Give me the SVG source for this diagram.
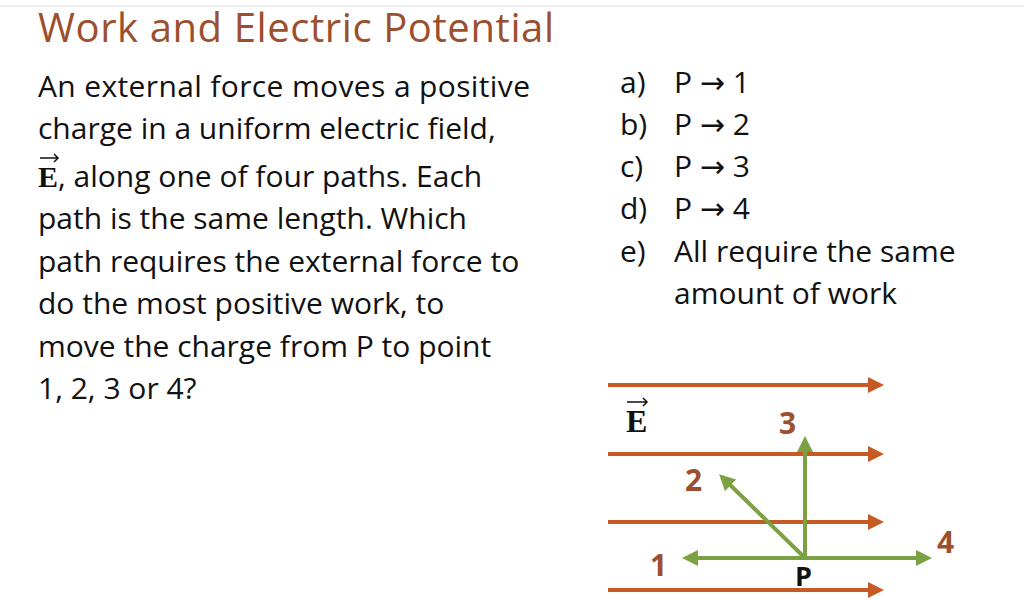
<svg xmlns="http://www.w3.org/2000/svg" width="1024" height="602" viewBox="0 0 1024 602">
<style>
.t{font-family:"Open Sans","Liberation Sans",sans-serif;fill:#111}
.b{font-size:30px}
.ar{font-family:"DejaVu Sans",sans-serif}
.f{stroke:#c55a24;stroke-width:4;marker-end:url(#oa)}
.g{stroke:#7ba143;stroke-width:4}
.n{font-family:"Open Sans","Liberation Sans",sans-serif;font-size:30px;font-weight:bold;fill:#9c4f2e}
</style>
<defs>
<marker id="oa" markerWidth="4" markerHeight="4" refX="3" refY="2" orient="auto"><path d="M0,0L4,2L0,4z" fill="#c55a24"/></marker>
<marker id="ga" markerWidth="4" markerHeight="4" refX="3" refY="2" orient="auto"><path d="M0,0L4,2L0,4z" fill="#7ba143"/></marker>
</defs>
<rect width="1024" height="602" fill="#fff"/>
<line x1="0" y1="6" x2="1024" y2="6" stroke="#ddd" stroke-width="1"/>
<g id="title"><text x="38" y="42" font-family="Open Sans,Liberation Sans,sans-serif" font-size="40" fill="#9c4f2e" textLength="516">Work and Electric Potential</text></g>
<g id="question" class="t b">
<text x="38" y="97" textLength="492">An external force moves a positive</text>
<text x="38" y="139">charge in a uniform electric field,</text>
<text x="38" y="187"><tspan font-family="Liberation Serif,serif" font-weight="bold">E</tspan>, along one of four paths. Each</text>
<text x="38" y="229">path is the same length. Which</text>
<text x="38" y="272">path requires the external force to</text>
<text x="38" y="314">do the most positive work, to</text>
<text x="38" y="357">move the charge from P to point</text>
<text x="38" y="399">1, 2, 3 or 4?</text>
<path d="M40,158h18M54,154l4,4l-4,4" stroke="#111" stroke-width="1.5" fill="none"/>
</g>
<g id="answers" class="t b">
<text x="620" y="93">a)</text><text x="674" y="93">P <tspan class="ar">→</tspan> 1</text>
<text x="620" y="135">b)</text><text x="674" y="135">P <tspan class="ar">→</tspan> 2</text>
<text x="620" y="177">c)</text><text x="674" y="177">P <tspan class="ar">→</tspan> 3</text>
<text x="620" y="219">d)</text><text x="674" y="219">P <tspan class="ar">→</tspan> 4</text>
<text x="620" y="262">e)</text><text x="674" y="262">All require the same</text>
<text x="674" y="304">amount of work</text>
</g>
<g id="field">
<line class="f" x1="608" y1="385" x2="880" y2="385"/>
<line class="f" x1="608" y1="454" x2="880" y2="454"/>
<line class="f" x1="608" y1="522" x2="880" y2="522"/>
<line class="f" x1="608" y1="590" x2="880" y2="590"/>
<text x="626" y="432" font-family="Liberation Serif,serif" font-weight="bold" font-size="32" fill="#111">E</text>
<path d="M627,402h20M643,398l4,4l-4,4" stroke="#111" stroke-width="1.5" fill="none"/>
</g>
<g id="paths">
<line class="g" x1="805" y1="558" x2="686" y2="558" marker-end="url(#ga)"/>
<line class="g" x1="805" y1="558" x2="928" y2="558" marker-end="url(#ga)"/>
<line class="g" x1="805" y1="558" x2="805" y2="440" marker-end="url(#ga)"/>
<line class="g" x1="805" y1="558" x2="722" y2="477" marker-end="url(#ga)"/>
</g>
<g id="labels">
<text class="n" x="650" y="576">1</text>
<text class="n" x="685" y="491">2</text>
<text class="n" x="779" y="434">3</text>
<text class="n" x="937" y="553">4</text>
<text x="795" y="586" font-family="Open Sans,Liberation Sans,sans-serif" font-weight="bold" font-size="27" fill="#111">P</text>
</g>
</svg>
